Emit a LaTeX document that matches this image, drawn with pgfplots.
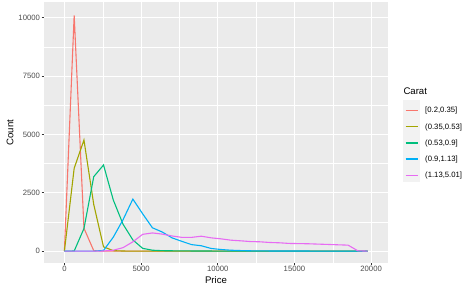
\documentclass[border=0pt]{standalone}
\usepackage{pgfplots}
\usepackage{pgfplotstable}
\pgfplotsset{compat=1.18}
\usepackage{fontspec}
\setmainfont{Liberation Sans}
\definecolor{cA}{HTML}{F8766D}
\definecolor{cB}{HTML}{A3A500}
\definecolor{cC}{HTML}{00BF7D}
\definecolor{cD}{HTML}{00B0F6}
\definecolor{cE}{HTML}{E76BF3}
\definecolor{panel}{HTML}{EBEBEB}
\definecolor{keyfill}{HTML}{F2F2F2}
\definecolor{ticklab}{HTML}{4D4D4D}
\definecolor{tickmark}{HTML}{333333}

\pgfplotstableread{
x r y g b m
0 0 0 0 0 0
637.8 10100 3550 5 0 0
1275.6 980 4760 970 0 0
1913.4 20 2000 3190 0 0
2551.2 0 185 3690 30 5
3189 0 20 2190 600 40
3826.8 0 5 1150 1350 150
4464.6 0 0 480 2230 400
5102.4 0 0 120 1600 720
5740.2 0 0 40 1000 780
6378 0 0 20 820 730
7015.8 0 0 15 570 650
7653.6 0 0 10 420 590
8291.4 0 0 8 280 590
8929.2 0 0 6 230 640
9567 0 0 4 115 570
10204.8 0 0 3 70 527
10842.6 0 0 2 40 471
11480.4 0 0 1 25 443
12118.2 0 0 0 15 411
12756 0 0 0 10 400
13393.8 0 0 0 8 371
14031.6 0 0 0 6 357
14669.4 0 0 0 5 330
15307.2 0 0 0 4 323
15945 0 0 0 4 315
16582.8 0 0 0 3 300
17220.6 0 0 0 3 286
17858.4 0 0 0 2 271
18496.2 0 0 0 2 257
19134 0 0 0 1 15
19771.8 0 0 0 0 0
}\freq

\begin{document}
\begin{tikzpicture}[x=1pt,y=1pt]
\useasboundingbox (0,0) rectangle (474,292);
\fill[keyfill] (403,110) rectangle (420,192);
\begin{axis}[
  at={(44pt,29pt)}, anchor=south west,
  scale only axis, width=344pt, height=261pt,
  xmin=-1330, xmax=21100, ymin=-508, ymax=10673,
  axis background/.style={fill=panel},
  axis line style={draw=none},
  xtick={0,5000,10000,15000,20000},
  ytick={0,2500,5000,7500,10000},
  minor xtick={2500,7500,12500,17500},
  minor ytick={1250,3750,6250,8750},
  grid=both,
  major grid style={white, line width=0.93pt},
  minor grid style={white, line width=0.47pt},
  tick align=outside,
  xtick pos=bottom, ytick pos=left,
  major tick length=2.4pt, minor tick length=0pt,
  every tick/.style={tickmark, line width=0.93pt},
  /pgf/number format/assume math mode=true,
  /pgf/number format/1000 sep={},
  scaled ticks=false,
  tick label style={font=\fontsize{7.7}{8}\selectfont, text=ticklab},
  xticklabel style={inner sep=1pt},
  yticklabel style={inner sep=1.5pt},
  xlabel={Price}, ylabel={Count},
  every axis x label/.style={at={(axis description cs:0.5,-0.0778)}, anchor=base, font=\fontsize{9.6}{11}\selectfont},
  every axis y label/.style={at={(axis description cs:-0.0887,0.5)}, anchor=base, rotate=90, font=\fontsize{9.6}{11}\selectfont},
  legend cell align=left,
  legend image code/.code={
    \draw[#1, line width=1.4pt] (0pt,0.5pt) -- (12pt,0.5pt);
    \path (0pt,0pt) (19pt,0pt);
  },
  legend style={
    at={(axis description cs:1.0494,0.598)}, anchor=north west,
    draw=none, fill=none, inner sep=0pt, outer sep=0pt,
    font=\fontsize{7.7}{8}\selectfont,
    row sep=8.25pt,
    nodes={inner sep=0pt, text height=6pt, text depth=2pt},
  },
  every axis plot/.append style={line width=1.1pt},
]
\addplot[cA] table[x=x,y=r] {\freq};
\addlegendentry{[0.2,0.35]}
\addplot[cB] table[x=x,y=y] {\freq};
\addlegendentry{(0.35,0.53]}
\addplot[cC] table[x=x,y=g] {\freq};
\addlegendentry{(0.53,0.9]}
\addplot[cD] table[x=x,y=b] {\freq};
\addlegendentry{(0.9,1.13]}
\addplot[cE] table[x=x,y=m] {\freq};
\addlegendentry{(1.13,5.01]}
\end{axis}
\node[anchor=base west, inner sep=0pt, font=\fontsize{9.6}{11}\selectfont] at (403.3,197) {Carat};
\end{tikzpicture}
\end{document}
